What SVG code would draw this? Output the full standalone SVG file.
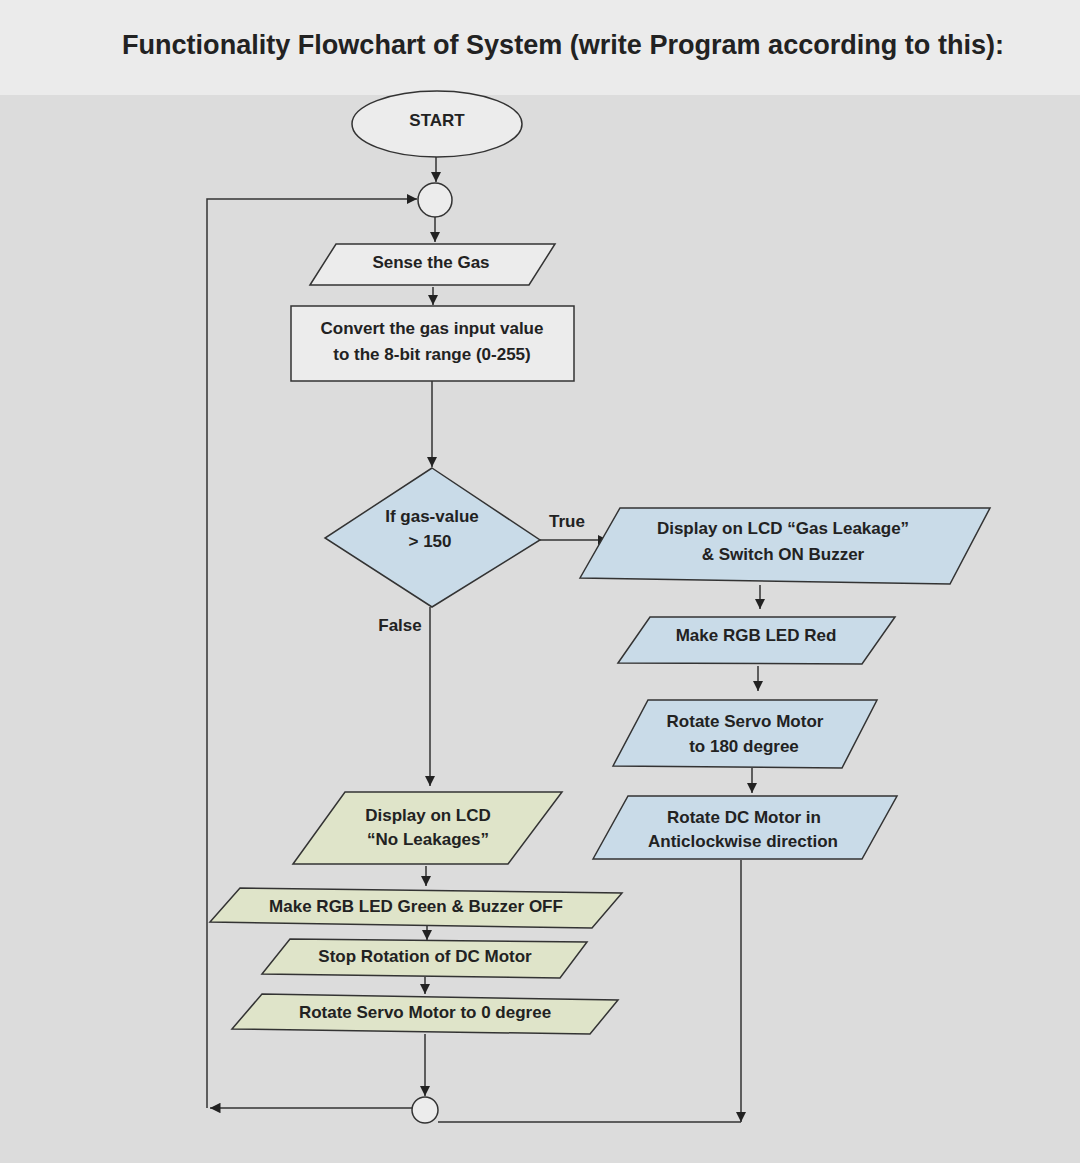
<svg xmlns="http://www.w3.org/2000/svg" width="1080" height="1163" viewBox="0 0 1080 1163">
<defs>
<marker id="ah" viewBox="0 0 10 10" refX="10" refY="5" markerWidth="7" markerHeight="7" orient="auto"><path d="M0,0 L10,5 L0,10 z" fill="#222"/></marker>
<style>
.t{font-family:"Liberation Sans",Arial,sans-serif;font-weight:bold;font-size:17px;fill:#222;text-anchor:middle}
.s{stroke:#333;stroke-width:1.5}
.l{stroke:#333;stroke-width:1.5;fill:none}
.b{fill:#c9dbe8}
.g{fill:#dfe4c9}
.w{fill:#ececec}
</style>
</defs>
<rect width="1080" height="1163" fill="#dcdcdc"/>
<rect width="1080" height="95" fill="#ebebeb"/>
<text x="122" y="54" textLength="882" lengthAdjust="spacingAndGlyphs" font-family="Liberation Sans,Arial,sans-serif" font-weight="bold" font-size="27" fill="#222">Functionality Flowchart of System (write Program according to this):</text>
<g id="connectors">
<line class="l" x1="436" y1="157" x2="436" y2="182" marker-end="url(#ah)"/>
<polyline class="l" points="207,1108 207,199 417,199" marker-end="url(#ah)"/>
<line class="l" x1="435" y1="217" x2="435" y2="242" marker-end="url(#ah)"/>
<line class="l" x1="433" y1="287" x2="433" y2="305" marker-end="url(#ah)"/>
<line class="l" x1="432" y1="381" x2="432" y2="467" marker-end="url(#ah)"/>
<line class="l" x1="540" y1="540" x2="608" y2="540" marker-end="url(#ah)"/>
<line class="l" x1="430" y1="607" x2="430" y2="786" marker-end="url(#ah)"/>
<line class="l" x1="760" y1="585" x2="760" y2="609" marker-end="url(#ah)"/>
<line class="l" x1="758" y1="666" x2="758" y2="691" marker-end="url(#ah)"/>
<line class="l" x1="752" y1="768" x2="752" y2="793" marker-end="url(#ah)"/>
<line class="l" x1="741" y1="860" x2="741" y2="1122" marker-end="url(#ah)"/>
<line class="l" x1="426" y1="866" x2="426" y2="886" marker-end="url(#ah)"/>
<line class="l" x1="427" y1="926" x2="427" y2="940" marker-end="url(#ah)"/>
<line class="l" x1="425" y1="977" x2="425" y2="994" marker-end="url(#ah)"/>
<line class="l" x1="425" y1="1034" x2="425" y2="1096" marker-end="url(#ah)"/>
<line class="l" x1="412" y1="1108" x2="210" y2="1108" marker-end="url(#ah)"/>
<line class="l" x1="438" y1="1122" x2="741" y2="1122"/>
<text class="t" x="567" y="527">True</text>
<text class="t" x="400" y="631">False</text>
</g>
<g id="start"><ellipse class="s w" cx="437" cy="124" rx="85" ry="33"/><text class="t" x="437" y="126">START</text></g>
<g id="c1"><circle class="s w" cx="435" cy="200" r="17"/></g>
<g id="sense"><polygon class="s w" points="310,285 336,244 555,244 529,285"/><text class="t" x="431" y="268">Sense the Gas</text></g>
<g id="convert"><rect class="s w" x="291" y="306" width="283" height="75"/><text class="t" x="432" y="334">Convert the gas input value</text><text class="t" x="432" y="360">to the 8-bit range (0-255)</text></g>
<g id="decision"><polygon class="s b" points="432,468 540,540 432,607 325,538"/><text class="t" x="432" y="522">If gas-value</text><text class="t" x="430" y="547">&gt; 150</text></g>
<g id="leak"><polygon class="s b" points="580,578 620,508 990,508 950,584"/><text class="t" x="783" y="534">Display on LCD “Gas Leakage”</text><text class="t" x="783" y="560">&amp; Switch ON Buzzer</text></g>
<g id="red"><polygon class="s b" points="618,663 650,617 895,617 862,664"/><text class="t" x="756" y="641">Make RGB LED Red</text></g>
<g id="servo180"><polygon class="s b" points="613,766 648,700 877,700 842,768"/><text class="t" x="745" y="727">Rotate Servo Motor</text><text class="t" x="744" y="752">to 180 degree</text></g>
<g id="dc"><polygon class="s b" points="593,859 628,796 897,796 862,859"/><text class="t" x="744" y="823">Rotate DC Motor in</text><text class="t" x="743" y="847">Anticlockwise direction</text></g>
<g id="noleak"><polygon class="s g" points="293,864 345,792 562,792 508,864"/><text class="t" x="428" y="821">Display on LCD</text><text class="t" x="428" y="845">“No Leakages”</text></g>
<g id="green"><polygon class="s g" points="210,922 240,888 622,893 592,928"/><text class="t" x="416" y="912">Make RGB LED Green &amp; Buzzer OFF</text></g>
<g id="stopdc"><polygon class="s g" points="262,974 290,939 587,942 560,978"/><text class="t" x="425" y="962">Stop Rotation of DC Motor</text></g>
<g id="servo0"><polygon class="s g" points="232,1029 262,994 618,1000 590,1034"/><text class="t" x="425" y="1018">Rotate Servo Motor to 0 degree</text></g>
<g id="c2"><circle class="s w" cx="425" cy="1110" r="13"/></g>
</svg>
